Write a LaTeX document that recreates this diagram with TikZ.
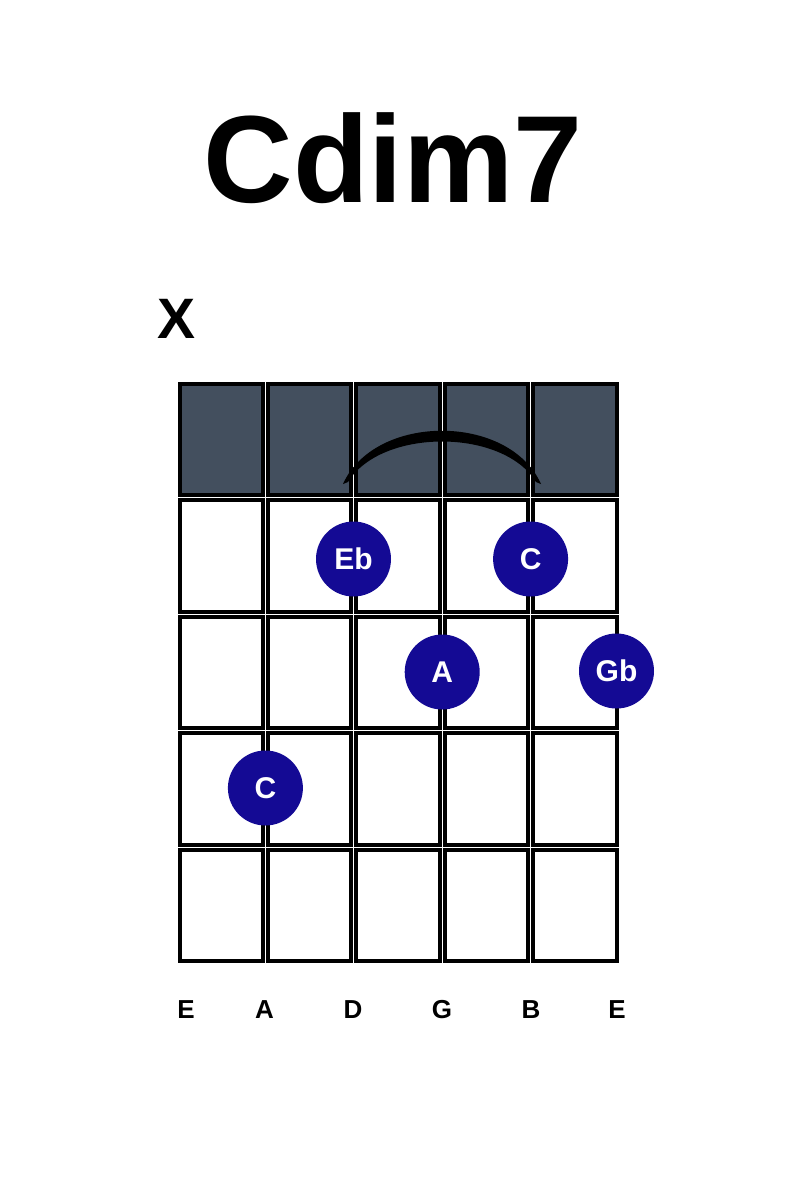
\documentclass[tikz,border=0pt]{standalone}
\usepackage{fontspec}
\setmainfont{Liberation Sans}
\definecolor{fretdark}{HTML}{434F5E}
\definecolor{dotblue}{HTML}{140A94}
\begin{document}
\begin{tikzpicture}[x=1pt,y=-1pt,
  cellbox/.style={draw=black,line width=4pt},
  topcell/.style={cellbox,fill=fretdark},
  notedot/.style={circle,fill=dotblue,minimum size=75pt,inner sep=0pt,text=white,font=\fontsize{30}{30}\selectfont\bfseries},
  strlabel/.style={anchor=base,font=\fontsize{26}{26}\selectfont\bfseries,inner sep=0pt}]
\useasboundingbox (0,0) rectangle (800,1200);
\fill[white] (0,0) rectangle (800,1200);
% title
\node[anchor=base,inner sep=0pt,font=\fontsize{124}{124}\selectfont\bfseries] (title) at (393,202) {Cdim7};
\node[anchor=base,inner sep=0pt,font=\fontsize{57}{57}\selectfont\bfseries] (mute) at (176.5,338) {X};
% grid cells
\foreach \i in {0,...,4}{
  \foreach \j in {0,...,4}{
    \pgfmathsetmacro{\xa}{177+88.4*\i+2.5}
    \pgfmathsetmacro{\xb}{177+88.4*(\i+1)-2.5}
    \pgfmathsetmacro{\ya}{381.5+116.4*\j+2.5}
    \pgfmathsetmacro{\yb}{381.5+116.4*(\j+1)-2.5}
    \ifnum\j=0
      \draw[topcell] (\xa,\ya) rectangle (\xb,\yb);
    \else
      \draw[cellbox] (\xa,\ya) rectangle (\xb,\yb);
    \fi
  }
}
% barre arc
\fill[black] (343,484) .. controls (375,413) and (509,413) .. (541,484)
  -- (536,482) .. controls (503,428) and (381,428) .. (348,482) -- cycle;
% note dots
\node[notedot] (eb) at (353.5,559) {Eb};
\node[notedot] (c1) at (530.6,559) {C};
\node[notedot] (a) at (442.2,672) {A};
\node[notedot] (gb) at (616.5,671) {Gb};
\node[notedot] (c2) at (265.4,788) {C};
% string labels
\node[strlabel] (s1) at (186,1018) {E};
\node[strlabel] (s2) at (264.5,1018) {A};
\node[strlabel] (s3) at (353,1018) {D};
\node[strlabel] (s4) at (442,1018) {G};
\node[strlabel] (s5) at (531,1018) {B};
\node[strlabel] (s6) at (617,1018) {E};
\end{tikzpicture}
\end{document}
